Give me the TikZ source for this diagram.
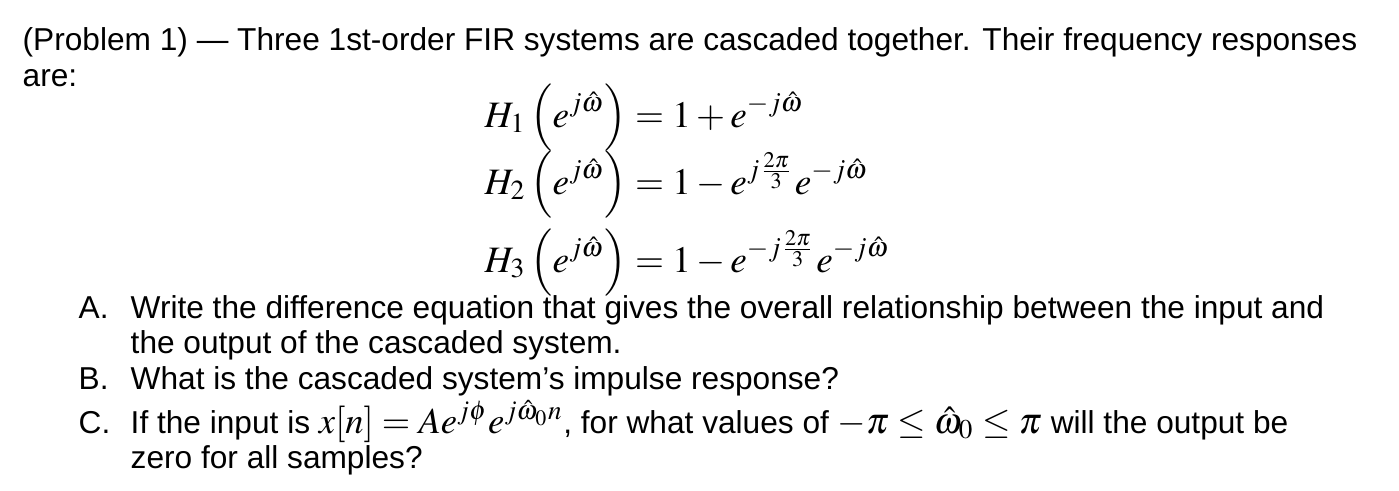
\documentclass[tikz,border=0pt]{standalone}
\usepackage{amsmath}
\usepackage{mathptmx}
\usepackage{fontspec}
\setmainfont{Liberation Sans}
\begin{document}
\begin{tikzpicture}[x=0.01cm,y=-0.01cm,
  txt/.style={anchor=base west,inner sep=0pt,font=\fontsize{9.0}{10}\selectfont},
  eq/.style={anchor=base west,inner sep=0pt,font=\fontsize{10.6}{12}\selectfont}]
\useasboundingbox (0,0) rectangle (1399,490);
\node[txt] (l1) at (22,50) {(Problem 1) --- Three 1st-order FIR systems are cascaded together. Their frequency responses};
\node[txt] (l2) at (22,86) {are:};
\node[eq] (h1) at (484,127) {$\displaystyle H_1\,\Bigl(e^{j\hat\omega}\Bigr) = 1+e^{-j\hat\omega}$};
\node[eq] (h2) at (484,194) {$\displaystyle H_2\,\Bigl(e^{j\hat\omega}\Bigr) = 1-e^{j\frac{2\pi}{3}}e^{-j\hat\omega}$};
\node[eq] (h3) at (484,272) {$\displaystyle H_3\,\Bigl(e^{j\hat\omega}\Bigr) = 1-e^{-j\frac{2\pi}{3}}e^{-j\hat\omega}$};
\node[txt] (a) at (78,318) {A.};
\node[txt] (a1) at (130,318) {Write the difference equation that gives the overall relationship between the input and};
\node[txt] (a2) at (130,353) {the output of the cascaded system.};
\node[txt] (b) at (78,389) {B.};
\node[txt] (b1) at (130,389) {What is the cascaded system’s impulse response?};
\node[txt] (c) at (78,433) {C.};
\node[txt] (c1) at (130,433) {If the input is {\fontsize{10.4}{12}\selectfont$x[n]=Ae^{j\phi}e^{j\hat\omega_0 n}$}, for what values of {\fontsize{10.4}{12}\selectfont$-\pi\le\hat\omega_0\le\pi$} will the output be};
\node[txt] (c2) at (130,468) {zero for all samples?};
\end{tikzpicture}
\end{document}
